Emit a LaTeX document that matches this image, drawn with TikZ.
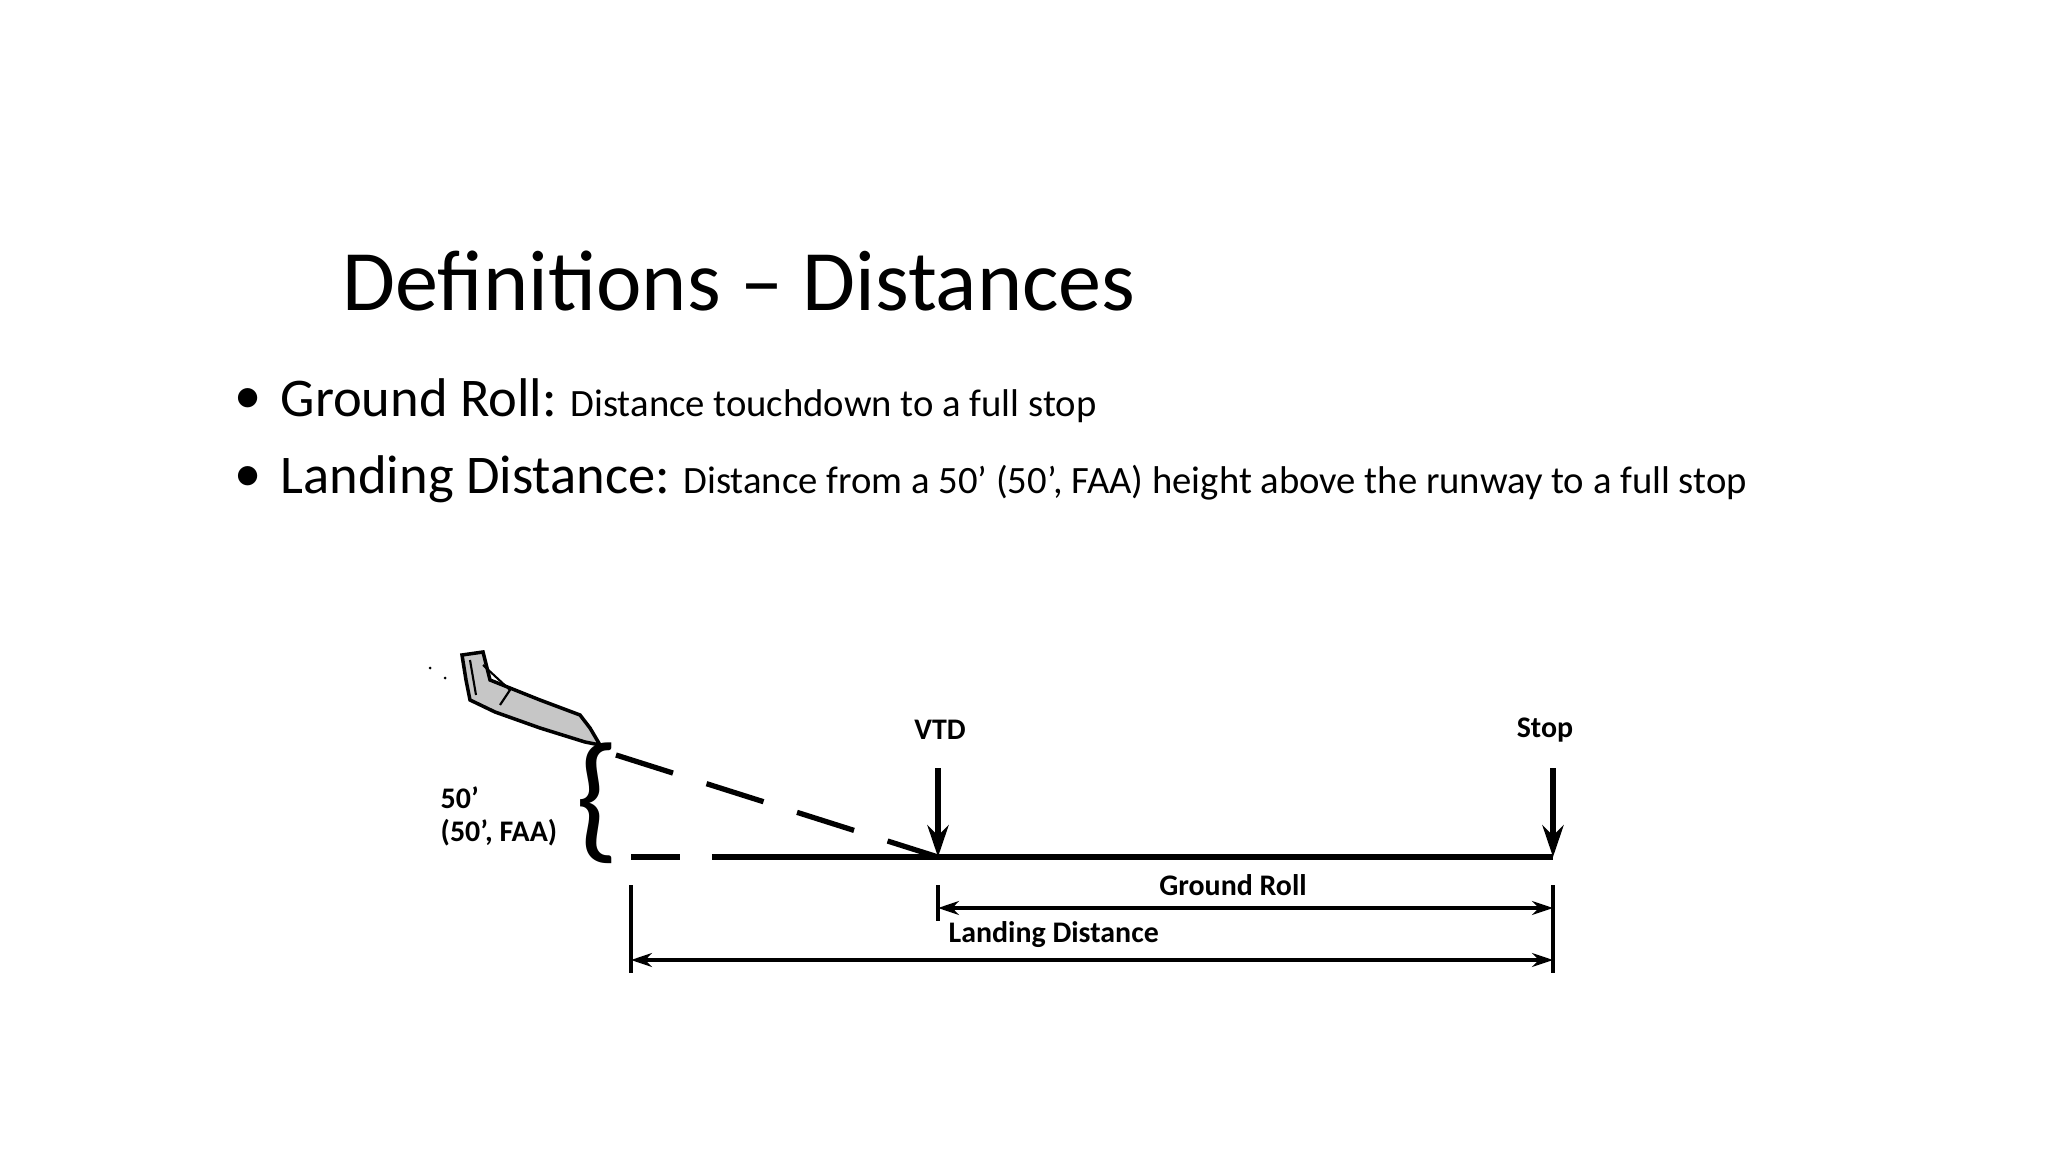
\documentclass[tikz,border=0pt]{standalone}
\usepackage{fontspec}
\setmainfont{Carlito}
\usetikzlibrary{arrows.meta}
\begin{document}
\begin{tikzpicture}[x=0.01cm,y=-0.01cm,
  lbl/.style={font=\bfseries\fontsize{8.5pt}{10pt}\selectfont,inner sep=0pt},
  thick line/.style={line width=1.5pt},
  dim/.style={line width=0.9pt,{Stealth[length=6pt,width=4pt]}-{Stealth[length=6pt,width=4pt]}},
  tick/.style={line width=0.9pt},
  down arrow/.style={line width=1.5pt,-{Stealth[length=9pt,width=6pt]}}]
\useasboundingbox (0,0) rectangle (2048,1152);
\node[anchor=west,inner sep=0pt,font=\fontsize{24.5pt}{30pt}\selectfont] (title) at (342,281) {Definitions – Distances};
\node[inner sep=0pt,font=\fontsize{15.5pt}{20pt}\selectfont] (b1) at (248,401) {•};
\node[anchor=west,inner sep=0pt] (t1) at (280,401) {\fontsize{15.5pt}{20pt}\selectfont Ground Roll:\hspace{0.25em}\fontsize{11pt}{14pt}\selectfont Distance touchdown to a full stop};
\node[inner sep=0pt,font=\fontsize{15.5pt}{20pt}\selectfont] (b2) at (248,479) {•};
\node[anchor=west,inner sep=0pt] (t2) at (280,479) {\fontsize{15.5pt}{20pt}\selectfont Landing Distance:\hspace{0.25em}\fontsize{11pt}{14pt}\selectfont Distance from a 50’ (50’, FAA) height above the runway to a full stop};
% airplane
\fill[gray!45,draw=black,line width=1pt] (462,655) -- (483,652) -- (490,680) -- (540,700) -- (580,715) -- (590,728) -- (600,745) -- (585,742) -- (540,728) -- (495,712) -- (470,700) -- (466,680) -- cycle;
\draw[line width=0.6pt] (470,660) -- (476,695) (483,665) -- (510,690) -- (500,705);
\fill (430,668) circle (1.5) (445,678) circle (1.5);
% coordinates
\coordinate (top) at (616,755);
\coordinate (L) at (631,857);
\coordinate (M) at (761,857);
\coordinate (V) at (938,857);
\coordinate (S) at (1553,857);
\coordinate (Vt) at (938,768);
\coordinate (St) at (1553,768);
\draw[thick line,dash pattern=on 17pt off 10pt] (top) -- (V);
\draw[thick line,dash pattern=on 14pt off 9pt] (L) -- (M);
\draw[thick line] (M) -- (S);
\draw[down arrow] (Vt) -- (V);
\draw[down arrow] (St) -- (S);
\node[lbl] (vtd) at (940,730) {VTD};
\node[lbl] (stop) at (1545,730) {Stop};
% brace
\node[inner sep=0pt,font=\fontsize{40pt}{40pt}\selectfont] (brace) at (598,803) {\{};
\node[lbl,anchor=west] (h1) at (440,798) {50’};
\node[lbl,anchor=west] (h2) at (440,833) {(50’, FAA)};
% dimensions
\coordinate (g1) at (938,908);
\coordinate (g2) at (1553,908);
\coordinate (d1) at (631,960);
\coordinate (d2) at (1553,960);
\draw[tick] (938,885) -- (938,921);
\draw[tick] (631,885) -- (631,973);
\draw[tick] (1553,885) -- (1553,973);
\draw[dim] (g1) -- (g2);
\draw[dim] (d1) -- (d2);
\node[lbl] (gr) at (1233,885) {Ground Roll};
\node[lbl,anchor=west] (ld) at (948,935) {Landing Distance};
\end{tikzpicture}
\end{document}
